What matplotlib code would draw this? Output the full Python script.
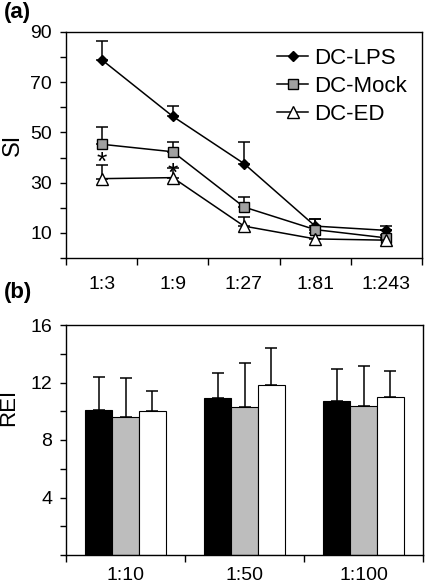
import matplotlib
matplotlib.use("Agg")
import matplotlib.pyplot as plt
import numpy as np

plt.rcParams['font.family'] = ['Liberation Sans', 'DejaVu Sans']

# Panel (a) data
ratios_a = ["1:3", "1:9", "1:27", "1:81", "1:243"]
lps = [79, 56.4, 37.6, 12.7, 11.0]
lps_err = [7.3, 4.0, 8.4, 2.9, 1.7]
mock = [45.3, 42.3, 20.3, 11.3, 8.0]
mock_err = [7.0, 3.7, 4.1, 4.3, 3.3]
ed = [31.6, 32.0, 12.7, 7.6, 7.1]
ed_err = [5.4, 4.0, 3.7, 2.4, 2.2]
series_labels = ["DC-LPS", "DC-Mock", "DC-ED"]

# Panel (b) data
ratios_b = ["1:10", "1:50", "1:100"]
rei_lps = [10.1, 10.95, 10.74]
rei_lps_err = [2.3, 1.7, 2.19]
rei_mock = [9.62, 10.27, 10.39]
rei_mock_err = [2.7, 3.12, 2.77]
rei_ed = [10.04, 11.81, 10.99]
rei_ed_err = [1.37, 2.56, 1.84]

fig = plt.figure(figsize=(4.25, 5.85), dpi=100)
fs = 14

# ---------- Panel (a) ----------
ax1 = fig.add_axes([66/425, 1-258/585, 356/425, 226/585])
x = np.arange(len(ratios_a))
lw = 1.1
for vals, errs in ((lps, lps_err), (mock, mock_err), (ed, ed_err)):
    ax1.errorbar(x, vals, yerr=[np.zeros(len(vals)), errs], fmt='none', ecolor='black',
                 elinewidth=lw, capsize=4.5, capthick=lw, zorder=2)
ax1.plot(x, lps, color='black', lw=lw, marker='D', markersize=5,
         markerfacecolor='black', markeredgecolor='black', label=series_labels[0], zorder=3)
ax1.plot(x, mock, color='black', lw=lw, marker='s', markersize=7,
         markerfacecolor='#a0a0a0', markeredgecolor='black', markeredgewidth=1,
         label=series_labels[1], zorder=3)
ax1.plot(x, ed, color='black', lw=lw, marker='^', markersize=8,
         markerfacecolor='white', markeredgecolor='black', markeredgewidth=1,
         label=series_labels[2], zorder=3)
ax1.text(0, 38.0, "*", ha='center', va='center', fontsize=19)
ax1.text(1, 33.6, "*", ha='center', va='center', fontsize=19)

ax1.set_xlim(-0.5, 4.5)
ax1.set_ylim(0, 90)
ax1.set_xticks(np.arange(-0.5, 5, 1))
ax1.set_xticklabels([])
ax1.set_xticks(x, minor=True)
ax1.set_xticklabels(ratios_a, minor=True, fontsize=fs)
ax1.tick_params(axis='x', which='minor', length=0, pad=13)
ax1.tick_params(axis='x', which='major', length=5, direction='out', width=1)
ax1.set_yticks(np.arange(0, 91, 10))
ax1.set_yticklabels(["" if v % 20 == 0 else str(v) for v in range(0, 91, 10)], fontsize=fs)
ax1.tick_params(axis='y', length=4, direction='out', width=1, pad=6)
ax1.set_ylabel("SI", fontsize=17, labelpad=5)
leg = ax1.legend(loc='upper right', frameon=False, fontsize=16, handlelength=1.4,
                 handletextpad=0.25, labelspacing=0.32, borderaxespad=0.35,
                 borderpad=0.35)
for sp in ax1.spines.values():
    sp.set_linewidth(1)
fig.text(0.008, 0.997, "(a)", fontsize=16, fontweight='bold', ha='left', va='top')

# ---------- Panel (b) ----------
ax2 = fig.add_axes([66/425, 1-555/585, 357/425, 230/585])
xb = np.arange(len(ratios_b))
w = 0.226
err_kw = dict(ecolor='black', elinewidth=lw, capsize=4, capthick=lw)
ax2.bar(xb - w, rei_lps, w, color='black', edgecolor='black', linewidth=0.8,
        yerr=[np.zeros(3), rei_lps_err], error_kw=err_kw)
ax2.bar(xb, rei_mock, w, color='#bdbdbd', edgecolor='black', linewidth=0.8,
        yerr=[np.zeros(3), rei_mock_err], error_kw=err_kw)
ax2.bar(xb + w, rei_ed, w, color='white', edgecolor='black', linewidth=0.8,
        yerr=[np.zeros(3), rei_ed_err], error_kw=err_kw)
ax2.set_xlim(-0.5, 2.5)
ax2.set_ylim(0, 16)
ax2.set_xticks(np.arange(-0.5, 3, 1))
ax2.set_xticklabels([])
ax2.set_xticks(xb, minor=True)
ax2.set_xticklabels(ratios_b, minor=True, fontsize=fs)
ax2.tick_params(axis='x', which='minor', length=0, pad=9)
ax2.tick_params(axis='x', which='major', length=5, direction='out', width=1)
ax2.set_yticks(np.arange(0, 17, 2))
ax2.set_yticklabels(["" if v % 4 != 0 or v == 0 else str(v) for v in range(0, 17, 2)], fontsize=fs)
ax2.tick_params(axis='y', length=4, direction='out', width=1, pad=6)
ax2.set_ylabel("REI", fontsize=16, labelpad=6)
ax2.yaxis.set_label_coords(-0.13, 0.643)
for sp in ax2.spines.values():
    sp.set_linewidth(1)
fig.text(0.008, 1-282/585, "(b)", fontsize=16, fontweight='bold', ha='left', va='top')

fig.savefig("out.png", dpi=100)
